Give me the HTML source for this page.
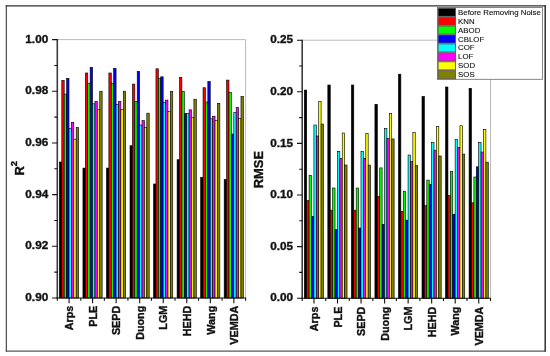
<!DOCTYPE html>
<html><head><meta charset="utf-8"><title>Chart</title>
<style>html,body{margin:0;padding:0;background:#fff}svg{display:block}text{stroke:#111;stroke-width:.35px}text.lg{stroke:#111;stroke-width:.12px;fill:#111}</style>
</head><body>
<svg width="550" height="356" viewBox="0 0 550 356" font-family="'Liberation Sans', Arial, sans-serif" fill="#111">
<rect x="0" y="0" width="550" height="356" fill="#fff"/>
<g stroke="#303030" fill="none"><path d="M6.3 5.2V351.6" stroke-width="1.05"/><path d="M5.8 351.1H546" stroke-width="1"/><path d="M5.8 5.8H546" stroke-width="1.3"/><path d="M545.2 5.2V351.6" stroke-width="1.5"/></g>
<path d="M57.3 39.6H245.62V298.0" fill="none" stroke="#777" stroke-width="0.5"/>
<rect x="59.40" y="162.00" width="2.40" height="136.00" fill="#000000" stroke="#000" stroke-width="0.62"/>
<rect x="61.80" y="80.40" width="2.40" height="217.60" fill="#ff0000" stroke="#000" stroke-width="0.62"/>
<rect x="64.20" y="94.10" width="2.40" height="203.90" fill="#00ff00" stroke="#000" stroke-width="0.62"/>
<rect x="66.60" y="78.40" width="2.40" height="219.60" fill="#0000ff" stroke="#000" stroke-width="0.62"/>
<rect x="69.00" y="128.60" width="2.40" height="169.40" fill="#00ffff" stroke="#000" stroke-width="0.62"/>
<rect x="71.40" y="122.40" width="2.40" height="175.60" fill="#ff00ff" stroke="#000" stroke-width="0.62"/>
<rect x="73.80" y="139.20" width="2.40" height="158.80" fill="#ffff00" stroke="#000" stroke-width="0.62"/>
<rect x="76.20" y="127.40" width="2.40" height="170.60" fill="#808000" stroke="#000" stroke-width="0.62"/>
<rect x="82.94" y="168.10" width="2.40" height="129.90" fill="#000000" stroke="#000" stroke-width="0.62"/>
<rect x="85.34" y="73.00" width="2.40" height="225.00" fill="#ff0000" stroke="#000" stroke-width="0.62"/>
<rect x="87.74" y="83.20" width="2.40" height="214.80" fill="#00ff00" stroke="#000" stroke-width="0.62"/>
<rect x="90.14" y="67.30" width="2.40" height="230.70" fill="#0000ff" stroke="#000" stroke-width="0.62"/>
<rect x="92.54" y="103.80" width="2.40" height="194.20" fill="#00ffff" stroke="#000" stroke-width="0.62"/>
<rect x="94.94" y="101.40" width="2.40" height="196.60" fill="#ff00ff" stroke="#000" stroke-width="0.62"/>
<rect x="97.34" y="109.30" width="2.40" height="188.70" fill="#ffff00" stroke="#000" stroke-width="0.62"/>
<rect x="99.74" y="91.20" width="2.40" height="206.80" fill="#808000" stroke="#000" stroke-width="0.62"/>
<rect x="106.48" y="168.10" width="2.40" height="129.90" fill="#000000" stroke="#000" stroke-width="0.62"/>
<rect x="108.88" y="73.00" width="2.40" height="225.00" fill="#ff0000" stroke="#000" stroke-width="0.62"/>
<rect x="111.28" y="83.20" width="2.40" height="214.80" fill="#00ff00" stroke="#000" stroke-width="0.62"/>
<rect x="113.68" y="68.40" width="2.40" height="229.60" fill="#0000ff" stroke="#000" stroke-width="0.62"/>
<rect x="116.08" y="104.30" width="2.40" height="193.70" fill="#00ffff" stroke="#000" stroke-width="0.62"/>
<rect x="118.48" y="101.40" width="2.40" height="196.60" fill="#ff00ff" stroke="#000" stroke-width="0.62"/>
<rect x="120.88" y="109.60" width="2.40" height="188.40" fill="#ffff00" stroke="#000" stroke-width="0.62"/>
<rect x="123.28" y="91.20" width="2.40" height="206.80" fill="#808000" stroke="#000" stroke-width="0.62"/>
<rect x="130.02" y="145.70" width="2.40" height="152.30" fill="#000000" stroke="#000" stroke-width="0.62"/>
<rect x="132.42" y="84.10" width="2.40" height="213.90" fill="#ff0000" stroke="#000" stroke-width="0.62"/>
<rect x="134.82" y="101.40" width="2.40" height="196.60" fill="#00ff00" stroke="#000" stroke-width="0.62"/>
<rect x="137.22" y="71.30" width="2.40" height="226.70" fill="#0000ff" stroke="#000" stroke-width="0.62"/>
<rect x="139.62" y="125.00" width="2.40" height="173.00" fill="#00ffff" stroke="#000" stroke-width="0.62"/>
<rect x="142.02" y="120.60" width="2.40" height="177.40" fill="#ff00ff" stroke="#000" stroke-width="0.62"/>
<rect x="144.42" y="127.40" width="2.40" height="170.60" fill="#ffff00" stroke="#000" stroke-width="0.62"/>
<rect x="146.82" y="113.20" width="2.40" height="184.80" fill="#808000" stroke="#000" stroke-width="0.62"/>
<rect x="153.56" y="184.00" width="2.40" height="114.00" fill="#000000" stroke="#000" stroke-width="0.62"/>
<rect x="155.96" y="68.80" width="2.40" height="229.20" fill="#ff0000" stroke="#000" stroke-width="0.62"/>
<rect x="158.36" y="78.20" width="2.40" height="219.80" fill="#00ff00" stroke="#000" stroke-width="0.62"/>
<rect x="160.76" y="76.80" width="2.40" height="221.20" fill="#0000ff" stroke="#000" stroke-width="0.62"/>
<rect x="163.16" y="102.30" width="2.40" height="195.70" fill="#00ffff" stroke="#000" stroke-width="0.62"/>
<rect x="165.56" y="100.10" width="2.40" height="197.90" fill="#ff00ff" stroke="#000" stroke-width="0.62"/>
<rect x="167.96" y="111.50" width="2.40" height="186.50" fill="#ffff00" stroke="#000" stroke-width="0.62"/>
<rect x="170.36" y="91.40" width="2.40" height="206.60" fill="#808000" stroke="#000" stroke-width="0.62"/>
<rect x="177.10" y="159.70" width="2.40" height="138.30" fill="#000000" stroke="#000" stroke-width="0.62"/>
<rect x="179.50" y="77.30" width="2.40" height="220.70" fill="#ff0000" stroke="#000" stroke-width="0.62"/>
<rect x="181.90" y="91.40" width="2.40" height="206.60" fill="#00ff00" stroke="#000" stroke-width="0.62"/>
<rect x="184.30" y="113.50" width="2.40" height="184.50" fill="#0000ff" stroke="#000" stroke-width="0.62"/>
<rect x="186.70" y="113.50" width="2.40" height="184.50" fill="#00ffff" stroke="#000" stroke-width="0.62"/>
<rect x="189.10" y="109.80" width="2.40" height="188.20" fill="#ff00ff" stroke="#000" stroke-width="0.62"/>
<rect x="191.50" y="117.50" width="2.40" height="180.50" fill="#ffff00" stroke="#000" stroke-width="0.62"/>
<rect x="193.90" y="99.20" width="2.40" height="198.80" fill="#808000" stroke="#000" stroke-width="0.62"/>
<rect x="200.64" y="177.40" width="2.40" height="120.60" fill="#000000" stroke="#000" stroke-width="0.62"/>
<rect x="203.04" y="87.70" width="2.40" height="210.30" fill="#ff0000" stroke="#000" stroke-width="0.62"/>
<rect x="205.44" y="102.00" width="2.40" height="196.00" fill="#00ff00" stroke="#000" stroke-width="0.62"/>
<rect x="207.84" y="81.50" width="2.40" height="216.50" fill="#0000ff" stroke="#000" stroke-width="0.62"/>
<rect x="210.24" y="118.80" width="2.40" height="179.20" fill="#00ffff" stroke="#000" stroke-width="0.62"/>
<rect x="212.64" y="116.20" width="2.40" height="181.80" fill="#ff00ff" stroke="#000" stroke-width="0.62"/>
<rect x="215.04" y="120.60" width="2.40" height="177.40" fill="#ffff00" stroke="#000" stroke-width="0.62"/>
<rect x="217.44" y="103.40" width="2.40" height="194.60" fill="#808000" stroke="#000" stroke-width="0.62"/>
<rect x="224.18" y="179.40" width="2.40" height="118.60" fill="#000000" stroke="#000" stroke-width="0.62"/>
<rect x="226.58" y="80.10" width="2.40" height="217.90" fill="#ff0000" stroke="#000" stroke-width="0.62"/>
<rect x="228.98" y="92.30" width="2.40" height="205.70" fill="#00ff00" stroke="#000" stroke-width="0.62"/>
<rect x="231.38" y="134.00" width="2.40" height="164.00" fill="#0000ff" stroke="#000" stroke-width="0.62"/>
<rect x="233.78" y="112.60" width="2.40" height="185.40" fill="#00ffff" stroke="#000" stroke-width="0.62"/>
<rect x="236.18" y="107.40" width="2.40" height="190.60" fill="#ff00ff" stroke="#000" stroke-width="0.62"/>
<rect x="238.58" y="118.40" width="2.40" height="179.60" fill="#ffff00" stroke="#000" stroke-width="0.62"/>
<rect x="240.98" y="96.30" width="2.40" height="201.70" fill="#808000" stroke="#000" stroke-width="0.62"/>
<path d="M57.3 39.1V298.5" fill="none" stroke="#3c3c3c" stroke-width="1.6"/>
<path d="M56.599999999999994 298.0H246.12" fill="none" stroke="#111" stroke-width="1.15"/>
<text transform="translate(48.20 42.70) scale(1.06 1)" text-anchor="end" font-size="11.1" font-weight="bold">1.00</text>
<text transform="translate(48.20 94.38) scale(1.06 1)" text-anchor="end" font-size="11.1" font-weight="bold">0.98</text>
<text transform="translate(48.20 146.06) scale(1.06 1)" text-anchor="end" font-size="11.1" font-weight="bold">0.96</text>
<text transform="translate(48.20 197.74) scale(1.06 1)" text-anchor="end" font-size="11.1" font-weight="bold">0.94</text>
<text transform="translate(48.20 249.42) scale(1.06 1)" text-anchor="end" font-size="11.1" font-weight="bold">0.92</text>
<text transform="translate(48.20 301.10) scale(1.06 1)" text-anchor="end" font-size="11.1" font-weight="bold">0.90</text>
<text transform="translate(73.27 305.70) rotate(-90) scale(1 1.05)" text-anchor="end" font-size="10.8" font-weight="bold">Arps</text>
<text transform="translate(96.81 305.70) rotate(-90) scale(1 1.05)" text-anchor="end" font-size="10.8" font-weight="bold">PLE</text>
<text transform="translate(120.35 305.70) rotate(-90) scale(1 1.05)" text-anchor="end" font-size="10.8" font-weight="bold">SEPD</text>
<text transform="translate(143.89 305.70) rotate(-90) scale(1 1.05)" text-anchor="end" font-size="10.8" font-weight="bold">Duong</text>
<text transform="translate(167.43 305.70) rotate(-90) scale(1 1.05)" text-anchor="end" font-size="10.8" font-weight="bold">LGM</text>
<text transform="translate(190.97 305.70) rotate(-90) scale(1 1.05)" text-anchor="end" font-size="10.8" font-weight="bold">HEHD</text>
<text transform="translate(214.51 305.70) rotate(-90) scale(1 1.05)" text-anchor="end" font-size="10.8" font-weight="bold">Wang</text>
<text transform="translate(238.05 305.70) rotate(-90) scale(1 1.05)" text-anchor="end" font-size="10.8" font-weight="bold">VEMDA</text>
<path d="M52.10 39.60H57.3M54.30 65.44H57.3M52.10 91.28H57.3M54.30 117.12H57.3M52.10 142.96H57.3M54.30 168.80H57.3M52.10 194.64H57.3M54.30 220.48H57.3M52.10 246.32H57.3M54.30 272.16H57.3M52.10 298.00H57.3M69.07 298.0v5.3M57.30 298.0v2.8M92.61 298.0v5.3M80.84 298.0v2.8M116.15 298.0v5.3M104.38 298.0v2.8M139.69 298.0v5.3M127.92 298.0v2.8M163.23 298.0v5.3M151.46 298.0v2.8M186.77 298.0v5.3M175.00 298.0v2.8M210.31 298.0v5.3M198.54 298.0v2.8M233.85 298.0v5.3M222.08 298.0v2.8M245.62 298.0v2.8" fill="none" stroke="#111" stroke-width="1.1"/>
<text transform="translate(23.90 175.50) rotate(-90) scale(1 1.05)" font-size="12.95" font-weight="bold">R<tspan font-size="9.5" dy="-6.1">2</tspan></text>
<path d="M302.2 40.2H490.52V298.2" fill="none" stroke="#777" stroke-width="0.5"/>
<rect x="304.30" y="90.10" width="2.40" height="208.10" fill="#000000" stroke="#000" stroke-width="0.62"/>
<rect x="306.70" y="200.60" width="2.40" height="97.60" fill="#ff0000" stroke="#000" stroke-width="0.62"/>
<rect x="309.10" y="175.40" width="2.40" height="122.80" fill="#00ff00" stroke="#000" stroke-width="0.62"/>
<rect x="311.50" y="216.50" width="2.40" height="81.70" fill="#0000ff" stroke="#000" stroke-width="0.62"/>
<rect x="313.90" y="125.00" width="2.40" height="173.20" fill="#00ffff" stroke="#000" stroke-width="0.62"/>
<rect x="316.30" y="136.00" width="2.40" height="162.20" fill="#ff00ff" stroke="#000" stroke-width="0.62"/>
<rect x="318.70" y="101.50" width="2.40" height="196.70" fill="#ffff00" stroke="#000" stroke-width="0.62"/>
<rect x="321.10" y="124.10" width="2.40" height="174.10" fill="#808000" stroke="#000" stroke-width="0.62"/>
<rect x="327.84" y="85.00" width="2.40" height="213.20" fill="#000000" stroke="#000" stroke-width="0.62"/>
<rect x="330.24" y="210.20" width="2.40" height="88.00" fill="#ff0000" stroke="#000" stroke-width="0.62"/>
<rect x="332.64" y="188.00" width="2.40" height="110.20" fill="#00ff00" stroke="#000" stroke-width="0.62"/>
<rect x="335.04" y="229.60" width="2.40" height="68.60" fill="#0000ff" stroke="#000" stroke-width="0.62"/>
<rect x="337.44" y="151.30" width="2.40" height="146.90" fill="#00ffff" stroke="#000" stroke-width="0.62"/>
<rect x="339.84" y="158.30" width="2.40" height="139.90" fill="#ff00ff" stroke="#000" stroke-width="0.62"/>
<rect x="342.24" y="133.00" width="2.40" height="165.20" fill="#ffff00" stroke="#000" stroke-width="0.62"/>
<rect x="344.64" y="165.00" width="2.40" height="133.20" fill="#808000" stroke="#000" stroke-width="0.62"/>
<rect x="351.38" y="85.00" width="2.40" height="213.20" fill="#000000" stroke="#000" stroke-width="0.62"/>
<rect x="353.78" y="210.20" width="2.40" height="88.00" fill="#ff0000" stroke="#000" stroke-width="0.62"/>
<rect x="356.18" y="188.00" width="2.40" height="110.20" fill="#00ff00" stroke="#000" stroke-width="0.62"/>
<rect x="358.58" y="228.00" width="2.40" height="70.20" fill="#0000ff" stroke="#000" stroke-width="0.62"/>
<rect x="360.98" y="151.30" width="2.40" height="146.90" fill="#00ffff" stroke="#000" stroke-width="0.62"/>
<rect x="363.38" y="158.30" width="2.40" height="139.90" fill="#ff00ff" stroke="#000" stroke-width="0.62"/>
<rect x="365.78" y="133.40" width="2.40" height="164.80" fill="#ffff00" stroke="#000" stroke-width="0.62"/>
<rect x="368.18" y="165.10" width="2.40" height="133.10" fill="#808000" stroke="#000" stroke-width="0.62"/>
<rect x="374.92" y="104.30" width="2.40" height="193.90" fill="#000000" stroke="#000" stroke-width="0.62"/>
<rect x="377.32" y="196.30" width="2.40" height="101.90" fill="#ff0000" stroke="#000" stroke-width="0.62"/>
<rect x="379.72" y="167.90" width="2.40" height="130.30" fill="#00ff00" stroke="#000" stroke-width="0.62"/>
<rect x="382.12" y="224.30" width="2.40" height="73.90" fill="#0000ff" stroke="#000" stroke-width="0.62"/>
<rect x="384.52" y="128.60" width="2.40" height="169.60" fill="#00ffff" stroke="#000" stroke-width="0.62"/>
<rect x="386.92" y="138.30" width="2.40" height="159.90" fill="#ff00ff" stroke="#000" stroke-width="0.62"/>
<rect x="389.32" y="113.60" width="2.40" height="184.60" fill="#ffff00" stroke="#000" stroke-width="0.62"/>
<rect x="391.72" y="138.90" width="2.40" height="159.30" fill="#808000" stroke="#000" stroke-width="0.62"/>
<rect x="398.46" y="74.20" width="2.40" height="224.00" fill="#000000" stroke="#000" stroke-width="0.62"/>
<rect x="400.86" y="211.40" width="2.40" height="86.80" fill="#ff0000" stroke="#000" stroke-width="0.62"/>
<rect x="403.26" y="191.20" width="2.40" height="107.00" fill="#00ff00" stroke="#000" stroke-width="0.62"/>
<rect x="405.66" y="220.10" width="2.40" height="78.10" fill="#0000ff" stroke="#000" stroke-width="0.62"/>
<rect x="408.06" y="155.00" width="2.40" height="143.20" fill="#00ffff" stroke="#000" stroke-width="0.62"/>
<rect x="410.46" y="161.50" width="2.40" height="136.70" fill="#ff00ff" stroke="#000" stroke-width="0.62"/>
<rect x="412.86" y="132.50" width="2.40" height="165.70" fill="#ffff00" stroke="#000" stroke-width="0.62"/>
<rect x="415.26" y="165.50" width="2.40" height="132.70" fill="#808000" stroke="#000" stroke-width="0.62"/>
<rect x="422.00" y="96.50" width="2.40" height="201.70" fill="#000000" stroke="#000" stroke-width="0.62"/>
<rect x="424.40" y="205.60" width="2.40" height="92.60" fill="#ff0000" stroke="#000" stroke-width="0.62"/>
<rect x="426.80" y="180.10" width="2.40" height="118.10" fill="#00ff00" stroke="#000" stroke-width="0.62"/>
<rect x="429.20" y="184.30" width="2.40" height="113.90" fill="#0000ff" stroke="#000" stroke-width="0.62"/>
<rect x="431.60" y="142.30" width="2.40" height="155.90" fill="#00ffff" stroke="#000" stroke-width="0.62"/>
<rect x="434.00" y="150.20" width="2.40" height="148.00" fill="#ff00ff" stroke="#000" stroke-width="0.62"/>
<rect x="436.40" y="126.50" width="2.40" height="171.70" fill="#ffff00" stroke="#000" stroke-width="0.62"/>
<rect x="438.80" y="156.00" width="2.40" height="142.20" fill="#808000" stroke="#000" stroke-width="0.62"/>
<rect x="445.54" y="87.00" width="2.40" height="211.20" fill="#000000" stroke="#000" stroke-width="0.62"/>
<rect x="447.94" y="195.50" width="2.40" height="102.70" fill="#ff0000" stroke="#000" stroke-width="0.62"/>
<rect x="450.34" y="171.50" width="2.40" height="126.70" fill="#00ff00" stroke="#000" stroke-width="0.62"/>
<rect x="452.74" y="214.20" width="2.40" height="84.00" fill="#0000ff" stroke="#000" stroke-width="0.62"/>
<rect x="455.14" y="139.60" width="2.40" height="158.60" fill="#00ffff" stroke="#000" stroke-width="0.62"/>
<rect x="457.54" y="147.40" width="2.40" height="150.80" fill="#ff00ff" stroke="#000" stroke-width="0.62"/>
<rect x="459.94" y="125.70" width="2.40" height="172.50" fill="#ffff00" stroke="#000" stroke-width="0.62"/>
<rect x="462.34" y="154.10" width="2.40" height="144.10" fill="#808000" stroke="#000" stroke-width="0.62"/>
<rect x="469.08" y="88.30" width="2.40" height="209.90" fill="#000000" stroke="#000" stroke-width="0.62"/>
<rect x="471.48" y="202.80" width="2.40" height="95.40" fill="#ff0000" stroke="#000" stroke-width="0.62"/>
<rect x="473.88" y="177.00" width="2.40" height="121.20" fill="#00ff00" stroke="#000" stroke-width="0.62"/>
<rect x="476.28" y="166.80" width="2.40" height="131.40" fill="#0000ff" stroke="#000" stroke-width="0.62"/>
<rect x="478.68" y="142.50" width="2.40" height="155.70" fill="#00ffff" stroke="#000" stroke-width="0.62"/>
<rect x="481.08" y="152.00" width="2.40" height="146.20" fill="#ff00ff" stroke="#000" stroke-width="0.62"/>
<rect x="483.48" y="129.60" width="2.40" height="168.60" fill="#ffff00" stroke="#000" stroke-width="0.62"/>
<rect x="485.88" y="162.20" width="2.40" height="136.00" fill="#808000" stroke="#000" stroke-width="0.62"/>
<path d="M302.2 39.7V298.7" fill="none" stroke="#3c3c3c" stroke-width="1.6"/>
<path d="M301.5 298.2H491.02" fill="none" stroke="#111" stroke-width="1.15"/>
<text transform="translate(293.10 43.30) scale(1.06 1)" text-anchor="end" font-size="11.1" font-weight="bold">0.25</text>
<text transform="translate(293.10 94.90) scale(1.06 1)" text-anchor="end" font-size="11.1" font-weight="bold">0.20</text>
<text transform="translate(293.10 146.50) scale(1.06 1)" text-anchor="end" font-size="11.1" font-weight="bold">0.15</text>
<text transform="translate(293.10 198.10) scale(1.06 1)" text-anchor="end" font-size="11.1" font-weight="bold">0.10</text>
<text transform="translate(293.10 249.70) scale(1.06 1)" text-anchor="end" font-size="11.1" font-weight="bold">0.05</text>
<text transform="translate(293.10 301.30) scale(1.06 1)" text-anchor="end" font-size="11.1" font-weight="bold">0.00</text>
<text transform="translate(318.17 306.60) rotate(-90) scale(1 1.05)" text-anchor="end" font-size="10.8" font-weight="bold">Arps</text>
<text transform="translate(341.71 306.60) rotate(-90) scale(1 1.05)" text-anchor="end" font-size="10.8" font-weight="bold">PLE</text>
<text transform="translate(365.25 306.60) rotate(-90) scale(1 1.05)" text-anchor="end" font-size="10.8" font-weight="bold">SEPD</text>
<text transform="translate(388.79 306.60) rotate(-90) scale(1 1.05)" text-anchor="end" font-size="10.8" font-weight="bold">Duong</text>
<text transform="translate(412.33 306.60) rotate(-90) scale(1 1.05)" text-anchor="end" font-size="10.8" font-weight="bold">LGM</text>
<text transform="translate(435.87 306.60) rotate(-90) scale(1 1.05)" text-anchor="end" font-size="10.8" font-weight="bold">HEHD</text>
<text transform="translate(459.41 306.60) rotate(-90) scale(1 1.05)" text-anchor="end" font-size="10.8" font-weight="bold">Wang</text>
<text transform="translate(482.95 306.60) rotate(-90) scale(1 1.05)" text-anchor="end" font-size="10.8" font-weight="bold">VEMDA</text>
<path d="M297.00 40.20H302.2M299.20 66.00H302.2M297.00 91.80H302.2M299.20 117.60H302.2M297.00 143.40H302.2M299.20 169.20H302.2M297.00 195.00H302.2M299.20 220.80H302.2M297.00 246.60H302.2M299.20 272.40H302.2M297.00 298.20H302.2M313.97 298.2v5.3M302.20 298.2v2.8M337.51 298.2v5.3M325.74 298.2v2.8M361.05 298.2v5.3M349.28 298.2v2.8M384.59 298.2v5.3M372.82 298.2v2.8M408.13 298.2v5.3M396.36 298.2v2.8M431.67 298.2v5.3M419.90 298.2v2.8M455.21 298.2v5.3M443.44 298.2v2.8M478.75 298.2v5.3M466.98 298.2v2.8M490.52 298.2v2.8" fill="none" stroke="#111" stroke-width="1.1"/>
<text transform="translate(263.40 169.60) rotate(-90) scale(1 1.05)" text-anchor="middle" font-size="12.95" font-weight="bold">RMSE</text>
<rect x="437.5" y="7.5" width="104.90" height="71.80" fill="#fff" stroke="#6a6a6a" stroke-width="0.8"/>
<rect x="438.1" y="8.20" width="17.5" height="8.1" fill="#000000" stroke="#555" stroke-width="0.9"/>
<text class="lg" transform="translate(458.1 15.05) scale(0.98 1)" font-size="8.0">Before Removing Noise</text>
<rect x="438.1" y="17.13" width="17.5" height="8.1" fill="#ff0000" stroke="#555" stroke-width="0.9"/>
<text class="lg" transform="translate(458.1 23.90) scale(0.98 1)" font-size="8.0">KNN</text>
<rect x="438.1" y="26.06" width="17.5" height="8.1" fill="#00ff00" stroke="#555" stroke-width="0.9"/>
<text class="lg" transform="translate(458.1 32.75) scale(0.98 1)" font-size="8.0">ABOD</text>
<rect x="438.1" y="34.99" width="17.5" height="8.1" fill="#0000ff" stroke="#555" stroke-width="0.9"/>
<text class="lg" transform="translate(458.1 41.60) scale(0.98 1)" font-size="8.0">CBLOF</text>
<rect x="438.1" y="43.92" width="17.5" height="8.1" fill="#00ffff" stroke="#555" stroke-width="0.9"/>
<text class="lg" transform="translate(458.1 50.45) scale(0.98 1)" font-size="8.0">COF</text>
<rect x="438.1" y="52.85" width="17.5" height="8.1" fill="#ff00ff" stroke="#555" stroke-width="0.9"/>
<text class="lg" transform="translate(458.1 59.30) scale(0.98 1)" font-size="8.0">LOF</text>
<rect x="438.1" y="61.78" width="17.5" height="8.1" fill="#ffff00" stroke="#555" stroke-width="0.9"/>
<text class="lg" transform="translate(458.1 68.15) scale(0.98 1)" font-size="8.0">SOD</text>
<rect x="438.1" y="70.71" width="17.5" height="8.1" fill="#808000" stroke="#555" stroke-width="0.9"/>
<text class="lg" transform="translate(458.1 77.00) scale(0.98 1)" font-size="8.0">SOS</text>
</svg>
</body></html>
